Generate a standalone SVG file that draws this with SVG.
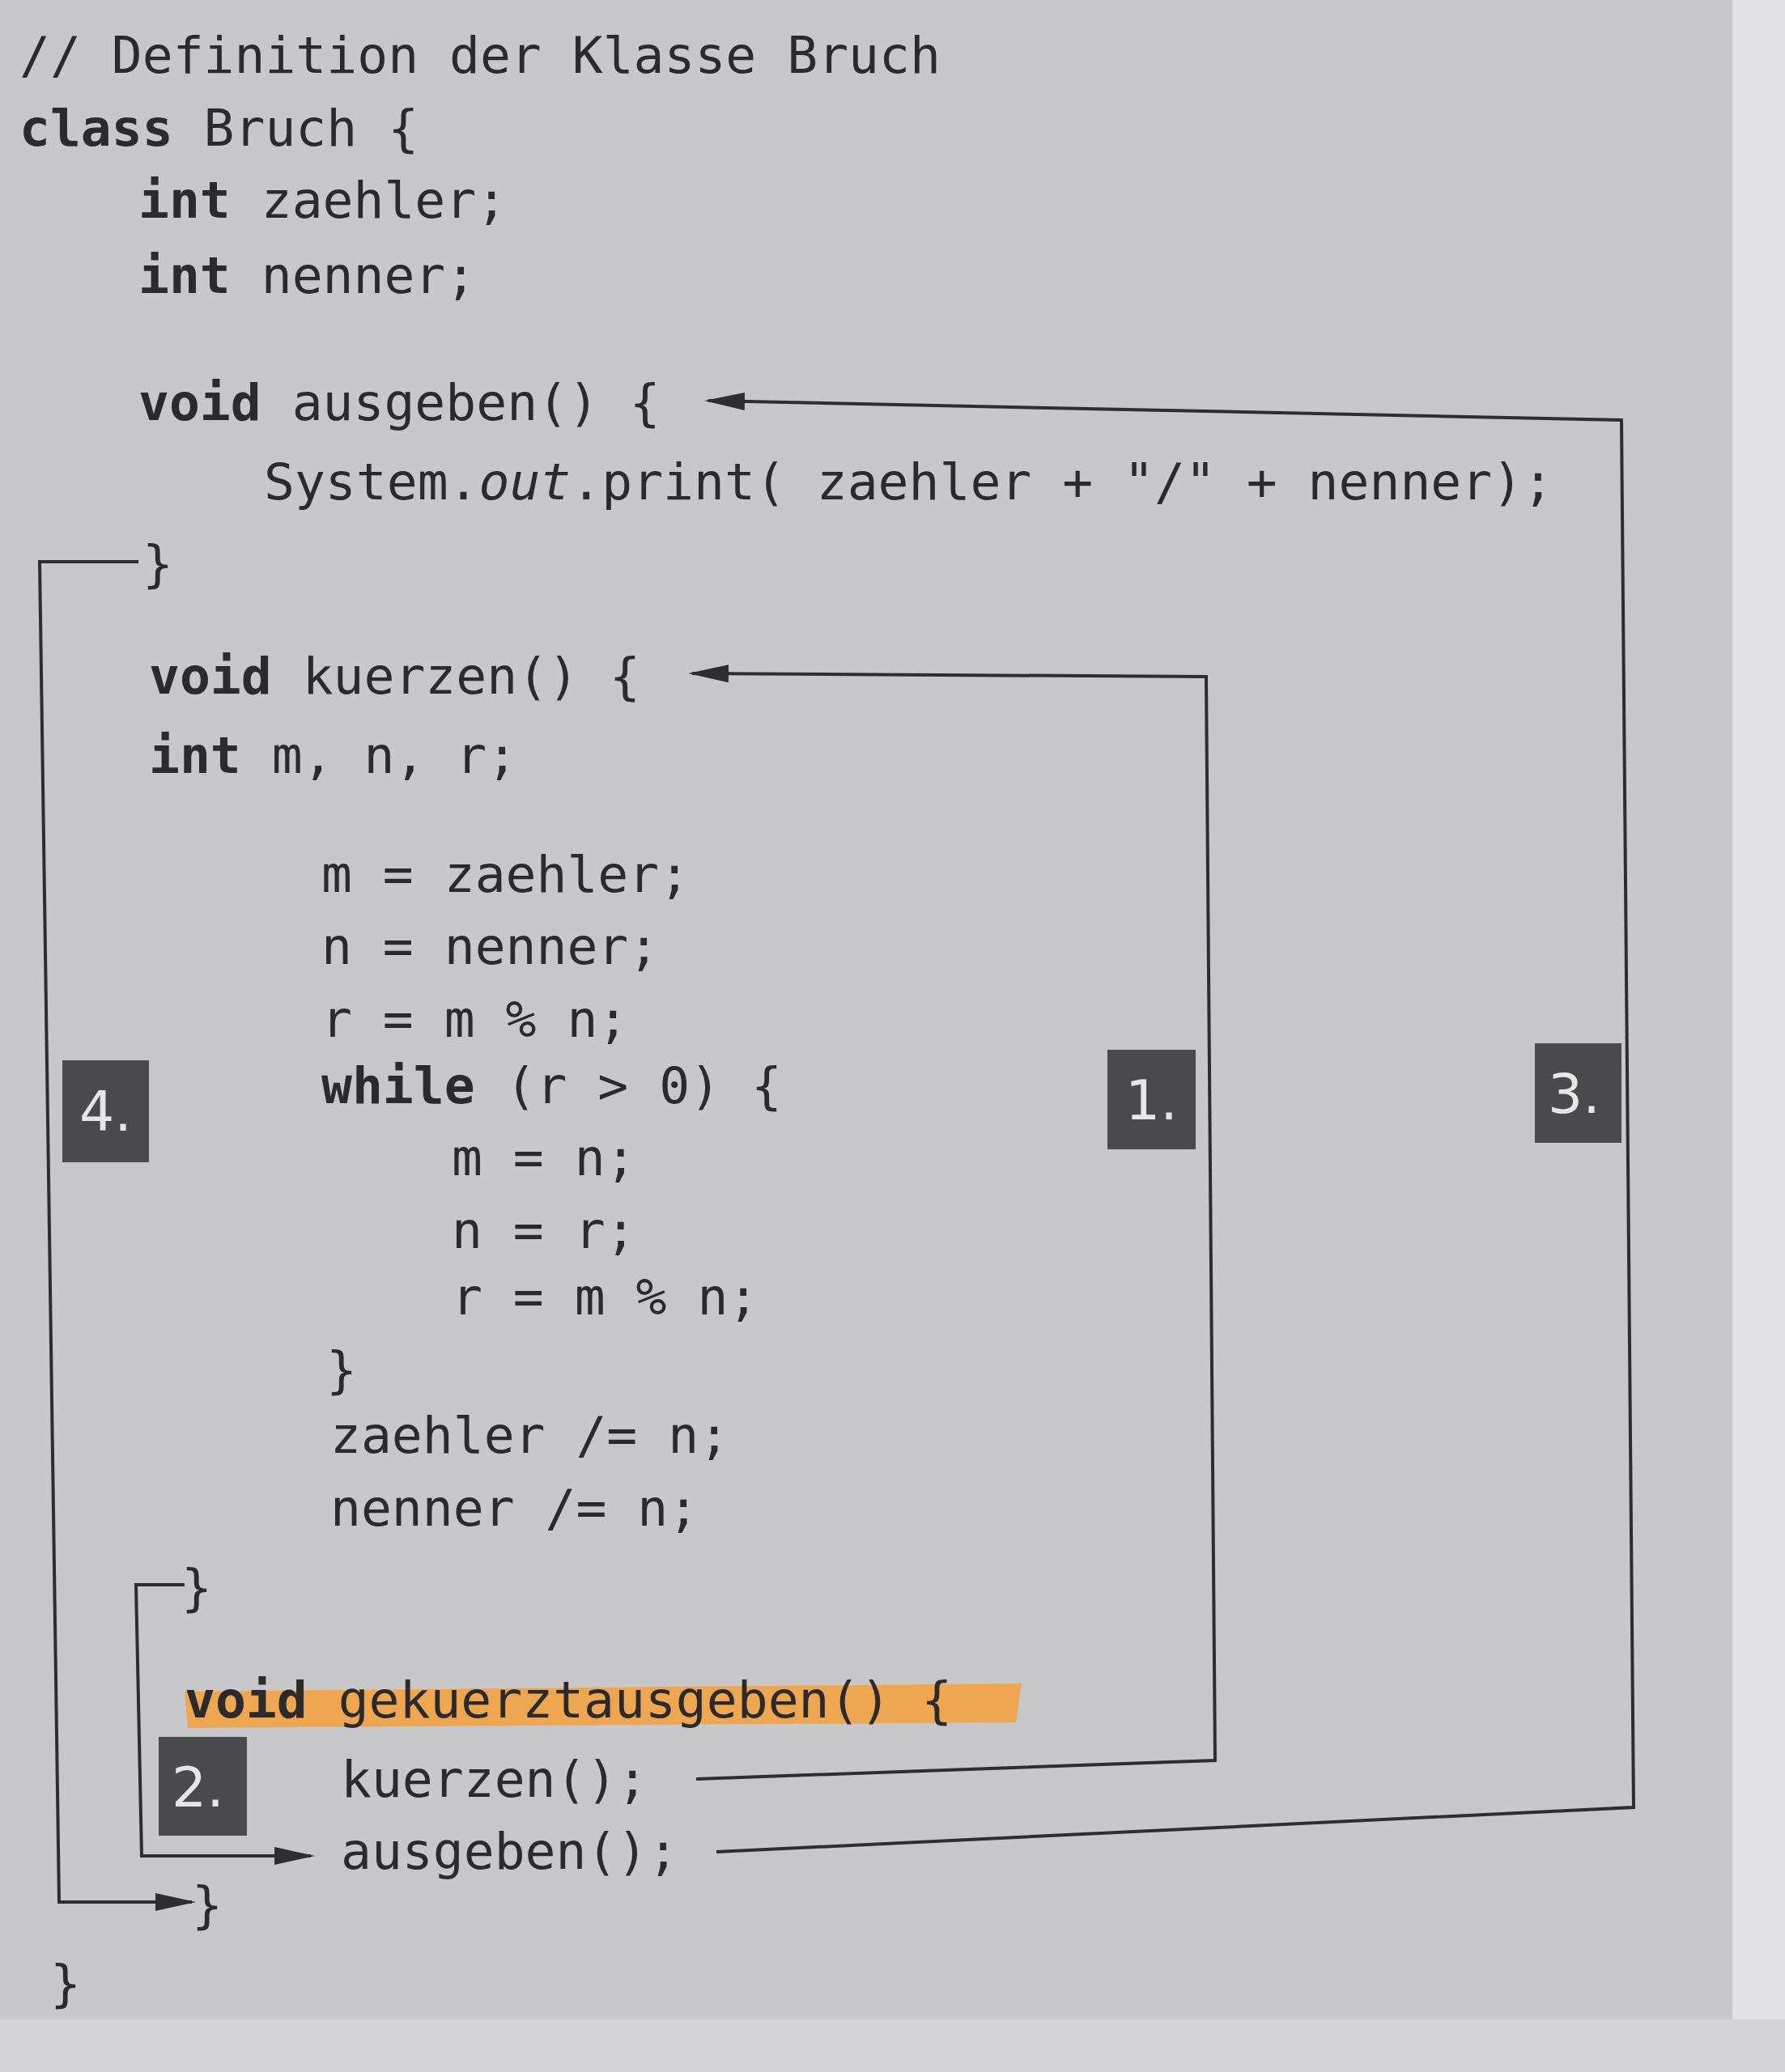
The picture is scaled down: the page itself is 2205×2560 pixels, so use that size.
<svg xmlns="http://www.w3.org/2000/svg" width="2205" height="2560" viewBox="0 0 2205 2560">
<defs>
<style>
text{font-family:"DejaVu Sans Mono","Liberation Mono",monospace;font-size:63px;fill:#2b2b2d}
.k{font-weight:bold}
.lab{font-family:"DejaVu Sans","Liberation Sans",sans-serif;font-size:68px;fill:#e6e6e6}
.ln{fill:none;stroke:#2e2e30;stroke-width:4}
.box{fill:#4a4a4c}
</style>
<marker id="ah" viewBox="0 0 10 10" refX="9" refY="5" markerWidth="50" markerHeight="22" markerUnits="userSpaceOnUse" orient="auto" preserveAspectRatio="none"><path d="M0,0 L10,5 L0,10 Z" fill="#2e2e30"/></marker>
</defs>
<rect width="2205" height="2560" fill="#c8c8ca"/>
<rect x="2140" y="0" width="65" height="2560" fill="#e2e2e4"/>
<rect x="0" y="2495" width="2205" height="65" fill="#d4d4d6"/>
<path d="M228,2090 L1262,2080 L1255,2128 L232,2135 Z" fill="#f5a03c" opacity="0.85"/>
<g id="code">
<text x="24" y="90">// Definition der Klasse Bruch</text>
<text x="24" y="180"><tspan class="k">class</tspan> Bruch {</text>
<text x="171" y="269"><tspan class="k">int</tspan> zaehler;</text>
<text x="171" y="362"><tspan class="k">int</tspan> nenner;</text>
<text x="171" y="519"><tspan class="k">void</tspan> ausgeben() {</text>
<text x="326" y="617">System.<tspan font-style="italic">out</tspan>.print( zaehler + "/" + nenner);</text>
<text x="176" y="718">}</text>
<text x="184" y="857"><tspan class="k">void</tspan> kuerzen() {</text>
<text x="184" y="955"><tspan class="k">int</tspan> m, n, r;</text>
<text x="397" y="1102">m = zaehler;</text>
<text x="397" y="1191">n = nenner;</text>
<text x="397" y="1281">r = m % n;</text>
<text x="397" y="1363"><tspan class="k">while</tspan> (r &gt; 0) {</text>
<text x="558" y="1452">m = n;</text>
<text x="558" y="1542">n = r;</text>
<text x="558" y="1624">r = m % n;</text>
<text x="403" y="1714">}</text>
<text x="408" y="1795">zaehler /= n;</text>
<text x="408" y="1885">nenner /= n;</text>
<text x="224" y="1983">}</text>
<text x="228" y="2122"><tspan class="k">void</tspan> gekuerztausgeben() {</text>
<text x="421" y="2220">kuerzen();</text>
<text x="421" y="2309">ausgeben();</text>
<text x="237" y="2375">}</text>
<text x="62" y="2472">}</text>
</g>
<g id="connectors">
<path class="ln" d="M885,2288 L2018,2233 L2003,519 L875,495" marker-end="url(#ah)"/>
<path class="ln" d="M860,2198 L1501,2175 L1490,836 L855,832" marker-end="url(#ah)"/>
<path class="ln" d="M171,694 L49,694 L73,2350 L237,2350" marker-end="url(#ah)"/>
<path class="ln" d="M228,1958 L168,1958 L175,2293 L384,2293" marker-end="url(#ah)"/>
</g>
<g id="label4"><rect class="box" x="77" y="1310" width="107" height="126"/><text class="lab" x="98" y="1397">4.</text></g>
<g id="label1"><rect class="box" x="1368" y="1297" width="109" height="123"/><text class="lab" x="1390" y="1383">1.</text></g>
<g id="label3"><rect class="box" x="1896" y="1289" width="107" height="123"/><text class="lab" x="1912" y="1375">3.</text></g>
<g id="label2"><rect class="box" x="196" y="2146" width="109" height="122"/><text class="lab" x="212" y="2232">2.</text></g>
</svg>
